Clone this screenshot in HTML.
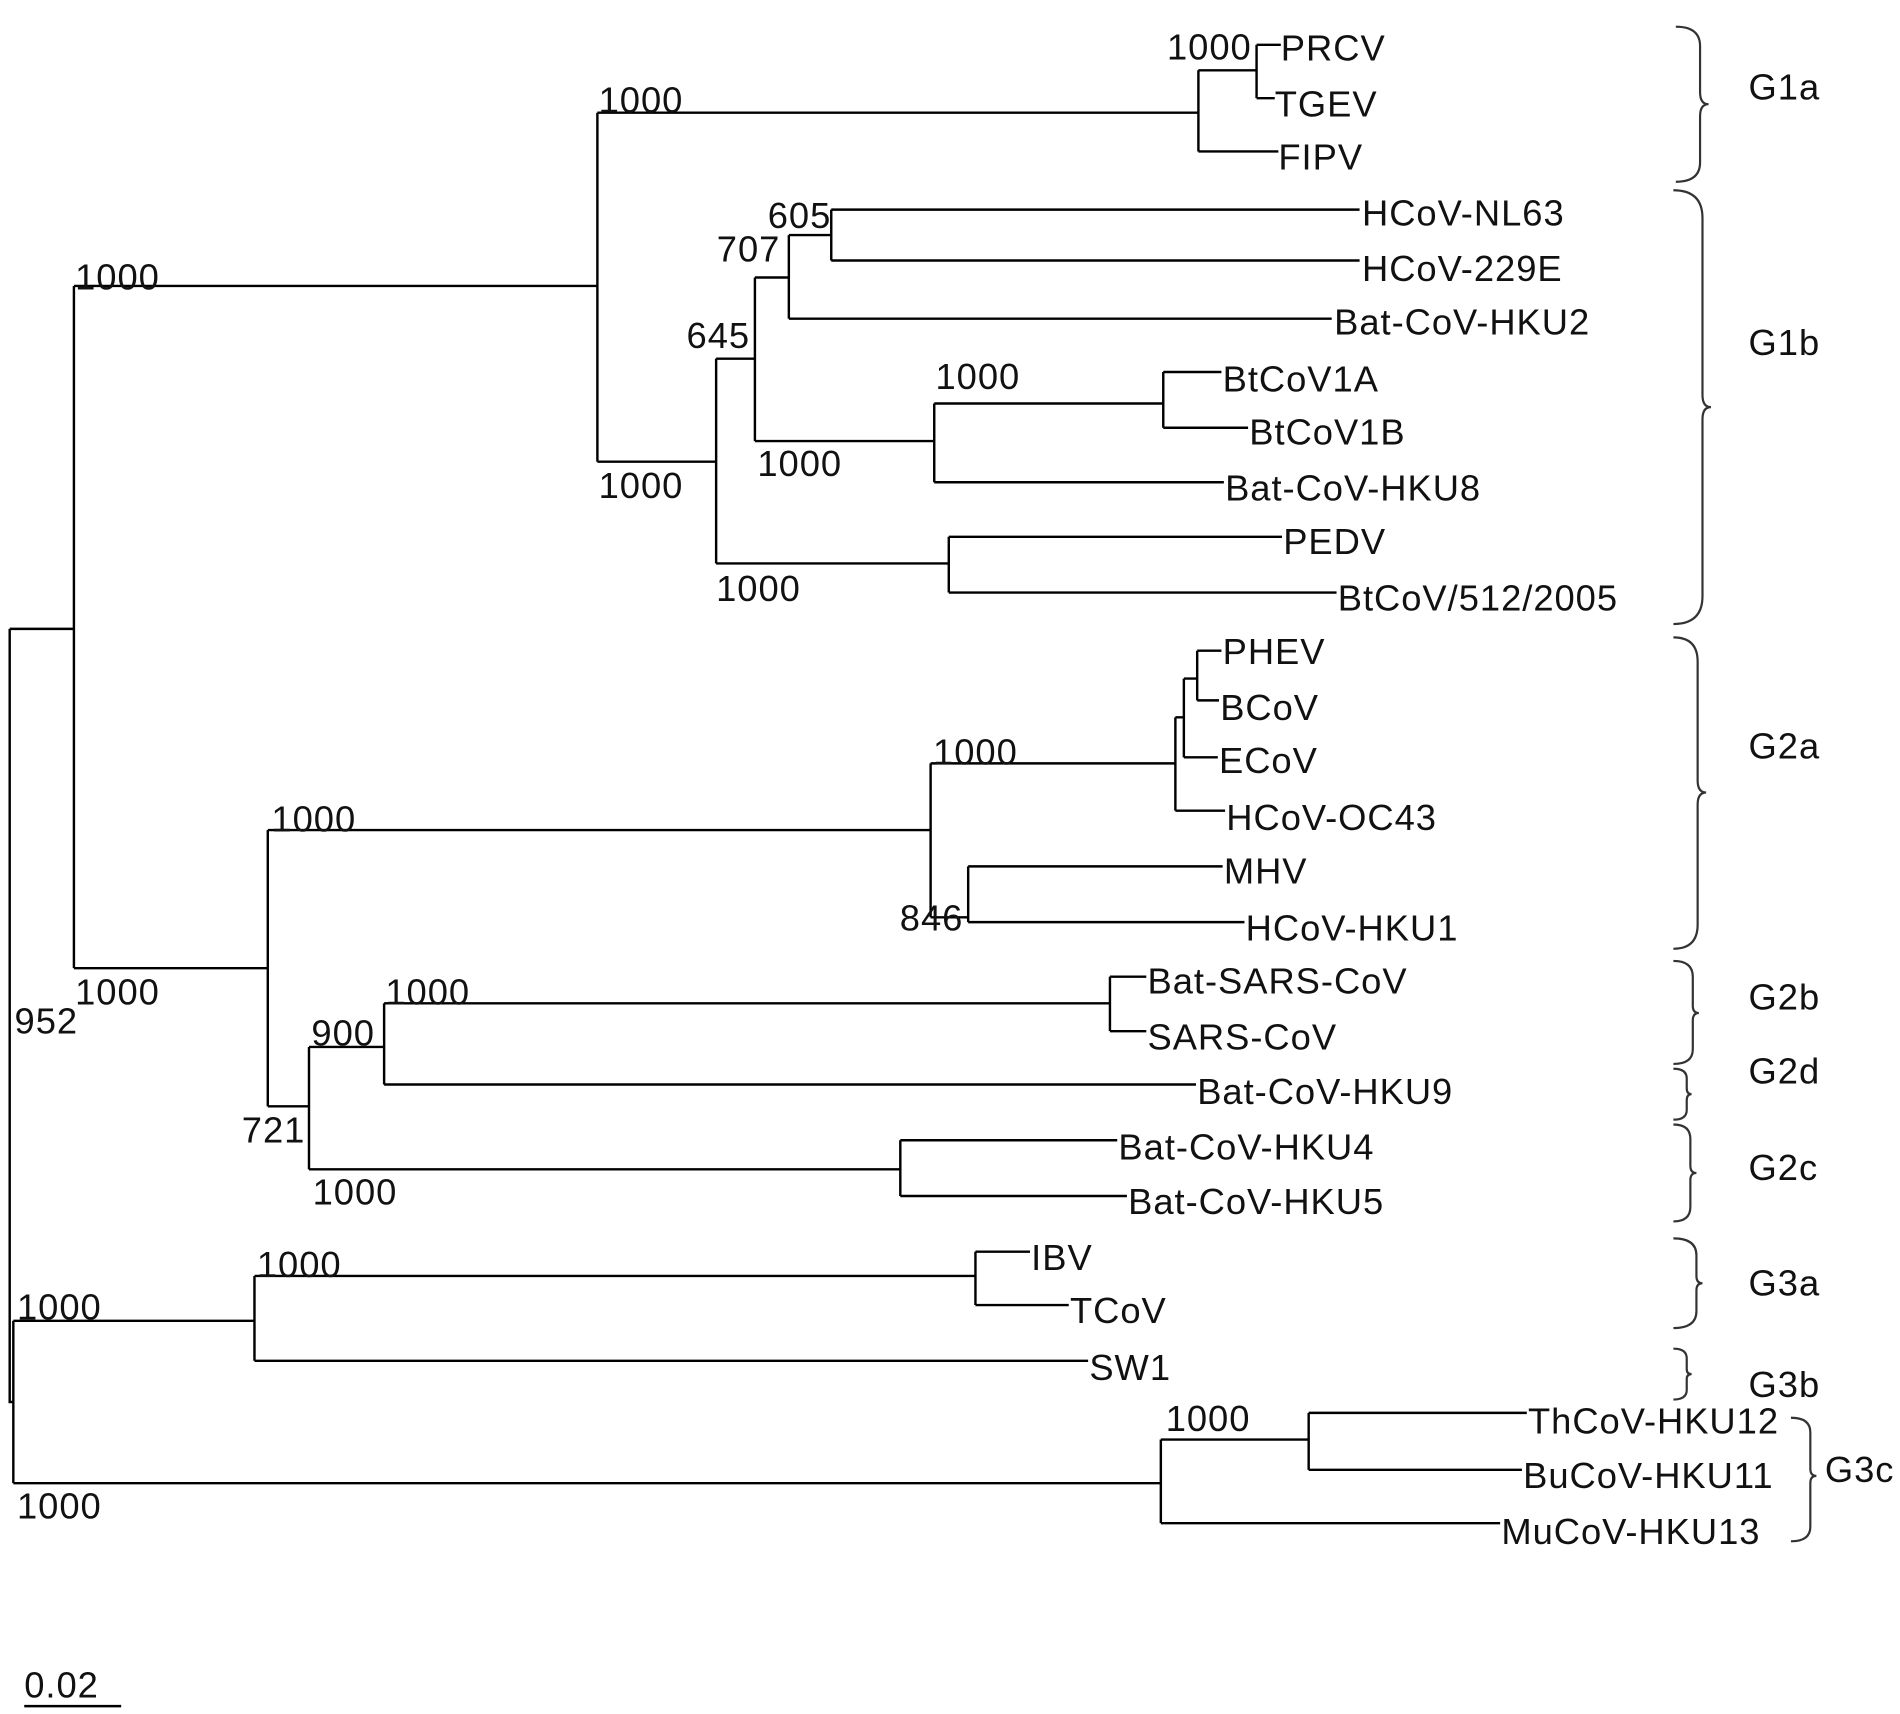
<!DOCTYPE html>
<html><head><meta charset="utf-8"><style>
html,body{margin:0;padding:0;background:#fff}
svg{display:block}
text{font-family:"Liberation Sans",Arial,sans-serif;font-size:30px;letter-spacing:0.8px;fill:#111}
</style></head><body>
<svg width="1900" height="1714" viewBox="0 0 1568 1414.5" xmlns="http://www.w3.org/2000/svg">
<g fill="none" stroke="#000" stroke-width="2">
<path d="M8,519V1157H11 M8,519H61 M61,236V799"/>
<path d="M61,236H493 M493,93V381 M493,93H989 M989,58V125 M989,58H1037 M1037,37V81 M1037,37H1057 M1037,81H1052 M989,125H1055"/>
<path d="M493,381H591 M591,296V465 M591,296H623 M623,229V364 M623,229H651 M651,194V263 M651,194H686 M686,173V215 M686,173H1122 M686,215H1122 M651,263H1099"/>
<path d="M623,364H771 M771,333V398 M771,333H960 M960,307V353 M960,307H1008 M960,353H1030 M771,398H1010"/>
<path d="M591,465H783 M783,443V489 M783,443H1058 M783,489H1103"/>
<path d="M61,799H221 M221,685V913 M221,685H768 M768,630V757 M768,630H970 M970,592V669 M970,592H977 M977,560V625 M977,560H988 M988,537V578 M988,537H1008 M988,578H1006 M977,625H1005 M970,669H1011"/>
<path d="M768,757H799 M799,715V761 M799,715H1009 M799,761H1027"/>
<path d="M221,913H255 M255,864V965 M255,864H317 M317,828V895 M317,828H916 M916,806V851 M916,806H946 M916,851H946 M317,895H987"/>
<path d="M255,965H743 M743,941V987 M743,941H922 M743,987H930"/>
<path d="M11,1090V1224 M11,1090H210 M210,1053V1123 M210,1053H805 M805,1033V1077 M805,1033H850 M805,1077H882 M210,1123H898"/>
<path d="M11,1224H958 M958,1188V1257 M958,1188H1080 M1080,1166V1213 M1080,1166H1260 M1080,1213H1256 M958,1257H1238"/>
<path d="M20,1408H100"/>
</g>
<g fill="none" stroke="#333" stroke-width="1.8">
<path d="M1383,22 Q1403,22 1403,38 V76 Q1403,86 1410,86 Q1403,86 1403,96 V134 Q1403,150 1383,150"/>
<path d="M1381,157 Q1405,157 1405,180 V326 Q1405,336 1412,336 Q1405,336 1405,346 V492 Q1405,515 1381,515"/>
<path d="M1381,526 Q1401,526 1401,546 V644 Q1401,654 1408,654 Q1401,654 1401,664 V763 Q1401,783 1381,783"/>
<path d="M1381,793 Q1397,793 1397,806 V830 Q1397,836 1402,836 Q1397,836 1397,842 V866 Q1397,878 1381,878"/>
<path d="M1381,882 Q1392,882 1392,890 V898 Q1392,903 1396,903 Q1392,903 1392,908 V916 Q1392,924 1381,924"/>
<path d="M1381,928 Q1395,928 1395,940 V962 Q1395,968 1400,968 Q1395,968 1395,974 V996 Q1395,1008 1381,1008"/>
<path d="M1381,1022 Q1400,1022 1400,1036 V1053 Q1400,1059 1405,1059 Q1400,1059 1400,1065 V1082 Q1400,1096 1381,1096"/>
<path d="M1381,1113 Q1392,1113 1392,1121 V1130 Q1392,1134 1396,1134 Q1392,1134 1392,1138 V1147 Q1392,1155 1381,1155"/>
<path d="M1478,1170 Q1494,1170 1494,1182 V1212 Q1494,1218 1499,1218 Q1494,1218 1494,1224 V1260 Q1494,1272 1478,1272"/>
</g>
<g>
<text x="1057" y="50">PRCV</text>
<text x="1052" y="96">TGEV</text>
<text x="1055" y="140">FIPV</text>
<text x="1124" y="186">HCoV-NL63</text>
<text x="1124" y="232">HCoV-229E</text>
<text x="1101" y="276">Bat-CoV-HKU2</text>
<text x="1009" y="323">BtCoV1A</text>
<text x="1031" y="367">BtCoV1B</text>
<text x="1011" y="413">Bat-CoV-HKU8</text>
<text x="1059" y="457">PEDV</text>
<text x="1104" y="504">BtCoV/512/2005</text>
<text x="1009" y="548">PHEV</text>
<text x="1007" y="594">BCoV</text>
<text x="1006" y="638">ECoV</text>
<text x="1012" y="685">HCoV-OC43</text>
<text x="1010" y="729">MHV</text>
<text x="1028" y="776">HCoV-HKU1</text>
<text x="947" y="820">Bat-SARS-CoV</text>
<text x="947" y="866">SARS-CoV</text>
<text x="988" y="911">Bat-CoV-HKU9</text>
<text x="923" y="957">Bat-CoV-HKU4</text>
<text x="931" y="1002">Bat-CoV-HKU5</text>
<text x="851" y="1048">IBV</text>
<text x="883" y="1092">TCoV</text>
<text x="899" y="1139">SW1</text>
<text x="1261" y="1183">ThCoV-HKU12</text>
<text x="1257" y="1228">BuCoV-HKU11</text>
<text x="1239" y="1274">MuCoV-HKU13</text>

<text x="1033" y="49" text-anchor="end">1000</text>
<text x="494" y="93">1000</text>
<text x="62" y="239">1000</text>
<text x="494" y="411">1000</text>
<text x="686" y="188" text-anchor="end">605</text>
<text x="644" y="216" text-anchor="end">707</text>
<text x="619" y="287" text-anchor="end">645</text>
<text x="772" y="321">1000</text>
<text x="625" y="393">1000</text>
<text x="591" y="496">1000</text>
<text x="770" y="631">1000</text>
<text x="224" y="686">1000</text>
<text x="795" y="768" text-anchor="end">846</text>
<text x="62" y="829">1000</text>
<text x="12" y="853">952</text>
<text x="318" y="829">1000</text>
<text x="257" y="863">900</text>
<text x="252" y="943" text-anchor="end">721</text>
<text x="258" y="994">1000</text>
<text x="212" y="1054">1000</text>
<text x="14" y="1089">1000</text>
<text x="962" y="1181">1000</text>
<text x="14" y="1253">1000</text>
<text x="20" y="1401">0.02</text>

<text x="1443" y="82">G1a</text>
<text x="1443" y="293">G1b</text>
<text x="1443" y="626">G2a</text>
<text x="1443" y="833">G2b</text>
<text x="1443" y="894">G2d</text>
<text x="1443" y="974">G2c</text>
<text x="1443" y="1069">G3a</text>
<text x="1443" y="1153">G3b</text>
<text x="1506" y="1223">G3c</text>
</g>
</svg>
</body></html>
